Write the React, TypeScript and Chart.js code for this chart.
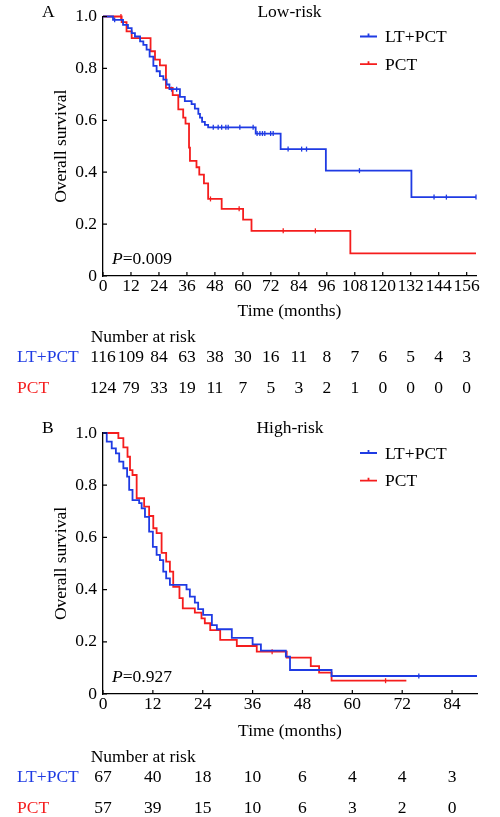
import { useEffect, useRef } from "react";
import { Chart, registerables } from "chart.js";

Chart.register(...registerables);

const FONT = '"Liberation Serif", "Times New Roman", serif';
const FONT_SIZE = 17.5;
const BLUE = "#1f3be3";
const RED = "#f51d1d";

// ---- Panel A: low-risk ----
const lowLtTimes = [0, 4.3, 8.6, 10.7, 12.3, 13.7, 15.9, 17.3, 18.7, 20, 21.6, 23, 24.4, 25.9, 27.3, 28.5, 33, 35.1, 38, 39.4, 40.9, 41.6, 42.5, 43.7, 45.1, 65.5, 76.2, 95.6, 132.3];
const lowLtSurv = [1, 0.987, 0.968, 0.955, 0.936, 0.923, 0.904, 0.891, 0.872, 0.845, 0.81, 0.789, 0.77, 0.757, 0.738, 0.72, 0.69, 0.674, 0.662, 0.645, 0.625, 0.61, 0.594, 0.582, 0.573, 0.549, 0.489, 0.406, 0.304];
const lowLtCensor = [5, 29.4, 31.6, 47.3, 49.4, 50.9, 52.7, 53.7, 58.7, 64.4, 66.1, 67.3, 68.4, 69.4, 71.9, 73, 79.4, 85.2, 87.3, 110, 142, 147.3, 160];

const lowPctTimes = [0, 8, 10.1, 12.3, 20.4, 22.3, 24.4, 27, 29.9, 32.3, 34.4, 35.4, 36.9, 37.3, 40.1, 41.3, 43.3, 45.1, 50.9, 60.1, 63.7, 106.1];
const lowPctSurv = [1, 0.978, 0.943, 0.917, 0.866, 0.834, 0.812, 0.725, 0.697, 0.642, 0.61, 0.587, 0.495, 0.444, 0.419, 0.391, 0.357, 0.297, 0.259, 0.217, 0.174, 0.087];
const lowPctCensor = [7.7, 46.1, 58.4, 77.3, 91.1];

const lowXTicks = [0, 12, 24, 36, 48, 60, 72, 84, 96, 108, 120, 132, 144, 156];
const lowRiskLt = [116, 109, 84, 63, 38, 30, 16, 11, 8, 7, 6, 5, 4, 3];
const lowRiskPct = [124, 79, 33, 19, 11, 7, 5, 3, 2, 1, 0, 0, 0, 0];

// ---- Panel B: high-risk ----
const highLtTimes = [0, 0.9, 2.1, 3.1, 3.9, 4.9, 5.8, 6.3, 7.1, 8.7, 9.3, 10.1, 11.1, 12, 12.9, 13.7, 14.5, 15.2, 16.1, 20.1, 20.9, 22.1, 22.9, 24.1, 26.2, 27.4, 31, 36, 38, 44, 45, 55];
const highLtSurv = [1, 0.967, 0.941, 0.922, 0.89, 0.865, 0.833, 0.782, 0.743, 0.731, 0.711, 0.679, 0.622, 0.564, 0.533, 0.513, 0.469, 0.443, 0.418, 0.401, 0.373, 0.35, 0.325, 0.303, 0.264, 0.248, 0.215, 0.19, 0.166, 0.143, 0.092, 0.069];
const highLtCensor = [76];

const highPctTimes = [0, 3.7, 4.9, 5.9, 6.5, 7.1, 8.1, 9.9, 11.1, 12.1, 12.9, 14.1, 15.2, 16.1, 16.9, 18.4, 19.2, 22.1, 23.7, 24.5, 25.8, 28.2, 32.2, 37, 44.2, 50, 52, 55];
const highPctSurv = [1, 0.98, 0.945, 0.909, 0.858, 0.839, 0.75, 0.718, 0.682, 0.635, 0.616, 0.541, 0.507, 0.469, 0.411, 0.367, 0.328, 0.312, 0.29, 0.271, 0.245, 0.207, 0.184, 0.162, 0.139, 0.107, 0.082, 0.051];
const highPctCensor = [40.7, 68];

const highXTicks = [0, 12, 24, 36, 48, 60, 72, 84];
const highRiskLt = [67, 40, 18, 10, 6, 4, 4, 3];
const highRiskPct = [57, 39, 15, 10, 6, 3, 2, 0];

const yTicks = [0, 0.2, 0.4, 0.6, 0.8, 1.0];

type Group = {
  label: string;
  color: string;
  times: number[];
  surv: number[];
  end: number;
  censor: number[];
  risk: number[];
};

type PanelProps = {
  letter: string;
  title: string;
  pValue: string;
  xMax: number;
  xTicks: number[];
  groups: Group[];
  height: number;
  padTop: number;
  padBottom: number;
  padRight: number;
  titlePadBottom: number;
  rowOffsets: number[];
};

function stepPoints(g: Group) {
  const pts = g.times.map((t, i) => ({ x: t, y: g.surv[i] }));
  pts.push({ x: g.end, y: g.surv[g.surv.length - 1] });
  return pts;
}

function survAt(g: Group, t: number) {
  let v = g.surv[0];
  g.times.forEach((tt, i) => {
    if (tt <= t) v = g.surv[i];
  });
  return v;
}

function extrasPlugin(p: PanelProps) {
  return {
    id: "kmExtras",
    afterDraw(chart: any) {
      const { ctx, chartArea } = chart;
      const { left, right, top, bottom } = chartArea;
      const xs = chart.scales.x;
      const ys = chart.scales.y;
      ctx.save();

      // inward tick marks
      ctx.strokeStyle = "#000";
      ctx.lineWidth = 1.2;
      ctx.beginPath();
      xs.ticks.forEach((t: any) => {
        const px = xs.getPixelForValue(t.value);
        ctx.moveTo(px, bottom);
        ctx.lineTo(px, bottom - 4);
      });
      ys.ticks.forEach((t: any) => {
        const py = ys.getPixelForValue(t.value);
        ctx.moveTo(left, py);
        ctx.lineTo(left + 4, py);
      });
      ctx.stroke();

      ctx.font = `${FONT_SIZE}px ${FONT}`;
      ctx.fillStyle = "#000";
      ctx.textBaseline = "alphabetic";
      ctx.textAlign = "left";
      ctx.fillText(p.letter, 42, top);
      ctx.textAlign = "center";
      ctx.fillText(p.title, (left + right) / 2, top);

      // legend
      p.groups.forEach((g, i) => {
        const ly = top + 20 + i * 27.7;
        ctx.strokeStyle = g.color;
        ctx.lineWidth = 1.8;
        ctx.beginPath();
        ctx.moveTo(360, ly);
        ctx.lineTo(377, ly);
        ctx.moveTo(368.5, ly);
        ctx.lineTo(368.5, ly - 3);
        ctx.stroke();
        ctx.fillStyle = "#000";
        ctx.textAlign = "left";
        ctx.fillText(g.label, 385, ly + 5.7);
      });

      // p value
      ctx.textAlign = "left";
      ctx.font = `italic ${FONT_SIZE}px ${FONT}`;
      ctx.fillText("P", 112, bottom - 12);
      const pw = ctx.measureText("P").width;
      ctx.font = `${FONT_SIZE}px ${FONT}`;
      ctx.fillText("=" + p.pValue, 112 + pw, bottom - 12);

      // number at risk table
      ctx.fillText("Number at risk", 90.7, bottom + p.rowOffsets[0]);
      p.groups.forEach((g, i) => {
        const ry = bottom + p.rowOffsets[i + 1];
        ctx.fillStyle = g.color;
        ctx.textAlign = "left";
        ctx.fillText(g.label, 17, ry);
        ctx.fillStyle = "#000";
        ctx.textAlign = "center";
        g.risk.forEach((n, j) => {
          ctx.fillText(String(n), xs.getPixelForValue(p.xTicks[j]), ry);
        });
      });
      ctx.restore();
    },
  };
}

function KmPanel(p: PanelProps) {
  const canvasRef = useRef<HTMLCanvasElement | null>(null);
  const chartRef = useRef<Chart | null>(null);

  useEffect(() => {
    if (!canvasRef.current) return;
    if (chartRef.current) chartRef.current.destroy();
    const font = { family: FONT, size: FONT_SIZE };
    chartRef.current = new Chart(canvasRef.current, {
      type: "line",
      data: {
        datasets: [
          ...p.groups.map((g) => ({
            label: g.label,
            data: stepPoints(g),
            borderColor: g.color,
            borderWidth: 1.8,
            stepped: "before" as const,
            pointRadius: 0,
            fill: false,
            clip: false as any,
          })),
          ...p.groups.map((g) => ({
            type: "scatter" as const,
            label: g.label + " censored",
            data: g.censor.map((t) => ({ x: t, y: survAt(g, t) })),
            showLine: false,
            pointStyle: "line" as const,
            pointRotation: 90,
            pointRadius: 2.5,
            pointBorderColor: g.color,
            pointBorderWidth: 1.3,
            borderColor: g.color,
            clip: false as any,
          })),
        ] as any,
      },
      options: {
        animation: false,
        responsive: true,
        maintainAspectRatio: false,
        layout: { padding: { left: 0, top: p.padTop, right: p.padRight, bottom: p.padBottom } },
        plugins: { legend: { display: false }, tooltip: { enabled: false } },
        scales: {
          x: {
            type: "linear",
            min: 0,
            max: p.xMax,
            afterBuildTicks: (s: any) => {
              s.ticks = p.xTicks.map((v) => ({ value: v }));
            },
            afterFit: (s: any) => {
              s.height = 49;
            },
            grid: { display: false, drawTicks: false },
            border: { display: true, color: "#000", width: 1.3 },
            ticks: { color: "#000", font, padding: 0, maxRotation: 0, autoSkip: false },
            title: {
              display: true,
              text: "Time (months)",
              color: "#000",
              font,
              padding: { top: 0, bottom: p.titlePadBottom },
            },
          },
          y: {
            type: "linear",
            min: 0,
            max: 1,
            afterBuildTicks: (s: any) => {
              s.ticks = yTicks.map((v) => ({ value: v }));
            },
            afterFit: (s: any) => {
              s.width = 103;
            },
            grid: { display: false, drawTicks: false },
            border: { display: true, color: "#000", width: 1.3 },
            ticks: {
              color: "#000",
              font,
              padding: 6,
              callback: (v: any) => (Number(v) === 0 ? "0" : Number(v).toFixed(1)),
            },
            title: {
              display: true,
              text: "Overall survival",
              color: "#000",
              font,
              padding: { top: 50.5, bottom: 0 },
            },
          },
        },
      },
      plugins: [extrasPlugin(p)],
    });
    return () => {
      if (chartRef.current) {
        chartRef.current.destroy();
        chartRef.current = null;
      }
    };
  }, [p]);

  return (
    <div style={{ position: "relative", width: 500, height: p.height }}>
      <canvas ref={canvasRef}></canvas>
    </div>
  );
}

const panelA: PanelProps = {
  letter: "A",
  title: "Low-risk",
  pValue: "0.009",
  xMax: 160,
  xTicks: lowXTicks,
  groups: [
    { label: "LT+PCT", color: BLUE, times: lowLtTimes, surv: lowLtSurv, end: 160, censor: lowLtCensor, risk: lowRiskLt },
    { label: "PCT", color: RED, times: lowPctTimes, surv: lowPctSurv, end: 160, censor: lowPctCensor, risk: lowRiskPct },
  ],
  height: 400,
  padTop: 15,
  padBottom: 75,
  padRight: 24,
  titlePadBottom: 3,
  rowOffsets: [65.5, 85.7, 117.3],
};

const panelB: PanelProps = {
  letter: "B",
  title: "High-risk",
  pValue: "0.927",
  xMax: 90,
  xTicks: highXTicks,
  groups: [
    { label: "LT+PCT", color: BLUE, times: highLtTimes, surv: highLtSurv, end: 90, censor: highLtCensor, risk: highRiskLt },
    { label: "PCT", color: RED, times: highPctTimes, surv: highPctSurv, end: 73, censor: highPctCensor, risk: highRiskPct },
  ],
  height: 417,
  padTop: 33,
  padBottom: 74,
  padRight: 23,
  titlePadBottom: 1.5,
  rowOffsets: [68, 87.7, 118.7],
};

export default function App() {
  useEffect(() => {
    document.body.style.margin = "0";
  }, []);
  return (
    <div style={{ width: 500, height: 817, background: "#fff" }}>
      <KmPanel {...panelA} />
      <KmPanel {...panelB} />
    </div>
  );
}
